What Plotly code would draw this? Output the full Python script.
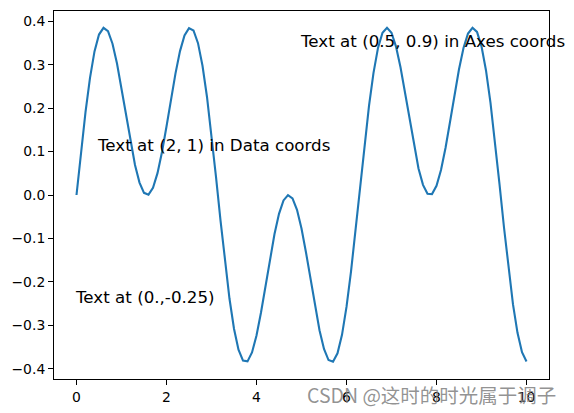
import plotly.graph_objects as go

x_vals = [round(i * 0.1, 1) for i in range(101)]
y_vals = [
    0.0, 0.0988, 0.1908, 0.2697, 0.3304, 0.3692, 0.3846, 0.3769, 0.3482, 0.3027,
    0.2456, 0.1834, 0.1224, 0.0690, 0.0285, 0.0050, 0.0009, 0.0165, 0.0503, 0.0989,
    0.1575, 0.2200, 0.2800, 0.3311, 0.3673, 0.3841, 0.3785, 0.3494, 0.2974, 0.2255,
    0.1383, 0.0415, -0.0582, -0.1538, -0.2388, -0.3077, -0.3559, -0.3811, -0.3829, -0.3624,
    -0.3233, -0.2704, -0.2095, -0.1472, -0.0899, -0.0434, -0.0125, -0.0002, -0.0076, -0.0342,
    -0.0772, -0.1323, -0.1939, -0.2558, -0.3113, -0.3544, -0.3798, -0.3837, -0.3643, -0.3217,
    -0.2576, -0.1762, -0.0825, 0.0168, 0.1149, 0.2052, 0.2812, 0.3385, 0.3735, 0.3849,
    0.3734, 0.3416, 0.2938, 0.2354, 0.1728, 0.1127, 0.0611, 0.0233, 0.0029, 0.0021,
    0.0210, 0.0575, 0.1083, 0.1679, 0.2305, 0.2894, 0.3383, 0.3715, 0.3848, 0.3752,
    0.3421, 0.2866, 0.2118, 0.1226, 0.0248, -0.0748, -0.1690, -0.2517, -0.3172, -0.3617,
    -0.3830,
]

x_ticks = [0, 2, 4, 6, 8, 10]
y_ticks = [-0.4, -0.3, -0.2, -0.1, 0.0, 0.1, 0.2, 0.3, 0.4]
y_labels = ["\u22120.4", "\u22120.3", "\u22120.2", "\u22120.1", "0.0", "0.1", "0.2", "0.3", "0.4"]

FONT = "DejaVu Sans"
# the page puts the figure 8px in from the top-left corner
W, H = 566, 405
L, R, T, B = 46, 24.5, 2.5, 34

fig = go.Figure()
fig.add_trace(go.Scatter(x=x_vals, y=y_vals, mode="lines",
                         line=dict(color="#1f77b4", width=2.1), showlegend=False))

axis_style = dict(showline=True, linecolor="black", linewidth=1, mirror=True,
                  ticks="outside", ticklen=5, tickwidth=1, tickcolor="black",
                  showgrid=False, zeroline=False, automargin=False,
                  tickfont=dict(family=FONT, size=13.9, color="black"))

fig.update_xaxes(range=[-0.5, 10.5], tickvals=x_ticks, **axis_style)
fig.update_yaxes(range=[-0.4234, 0.4234], tickvals=y_ticks, ticktext=y_labels, **axis_style)

txt = dict(family=FONT, size=16.7, color="black")
fig.add_annotation(x=0.5, y=0.9, xref="x domain", yref="y domain", text="Text at (0.5, 0.9) in Axes coords",
                   showarrow=False, xanchor="left", yanchor="bottom", xshift=-3, yshift=-4, borderpad=0, font=txt)
fig.add_annotation(x=0.5, y=0.1, xref="x", yref="y", text="Text at (2, 1) in Data coords",
                   showarrow=False, xanchor="left", yanchor="bottom", xshift=-3, yshift=-4, borderpad=0, font=txt)
fig.add_annotation(x=0, y=-0.25, xref="x", yref="y", text="Text at (0.,-0.25)",
                   showarrow=False, xanchor="left", yanchor="bottom", xshift=-3, yshift=-4, borderpad=0, font=txt)

# watermark (paper coords are relative to the plot area)
pw, ph = W - L - R, H - T - B
fig.add_annotation(x=(550 - L) / pw, y=(H - B - 387) / ph, xref="paper", yref="paper",
                   text="CSDN @这时的时光属于调子", showarrow=False,
                   xanchor="right", yanchor="middle", borderpad=0,
                   font=dict(family="Noto Sans CJK SC", size=19.5, color="rgba(128,128,128,0.85)"))

fig.update_layout(width=W, height=H, margin=dict(l=L, r=R, t=T, b=B),
                  plot_bgcolor="white", paper_bgcolor="white")

fig.write_html("out.html")
